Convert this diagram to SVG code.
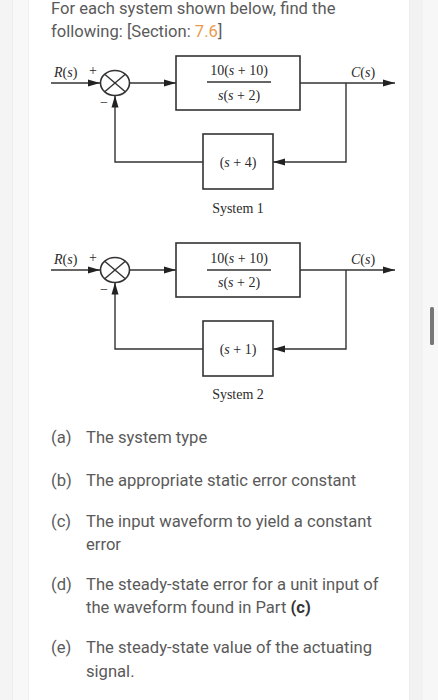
<svg xmlns="http://www.w3.org/2000/svg" width="438" height="700" viewBox="0 0 438 700">
<defs>
<style>
.bg{fill:#f4f4f4}
.ln{fill:none;stroke:#333;stroke-width:1.4}
.blk{fill:#fff;stroke:#333;stroke-width:1.6}
.dg{font-family:"Liberation Serif","Times New Roman",serif;font-size:14px;fill:#2a2a2a}
.it{font-style:italic}
.tx{font-family:Roboto,"Liberation Sans",Arial,sans-serif;font-size:16.6px;fill:#5a5a5a}
.or{fill:#e89a4e}
.bd{font-weight:bold;fill:#333}
</style>
<marker id="ah" markerUnits="userSpaceOnUse" markerWidth="13" markerHeight="8" refX="12" refY="4" orient="auto">
<path d="M0,0.5 L12,4 L0,7.5 z" fill="#222"/>
</marker>
</defs>
<rect x="0" y="0" width="438" height="700" class="bg"/>
<rect x="13" y="0" width="16" height="700" fill="#f8f8f8"/>
<line x1="12.5" y1="0" x2="12.5" y2="700" stroke="#ececec"/>
<rect x="29" y="0" width="381" height="700" fill="#fff"/>
<line x1="28.5" y1="0" x2="28.5" y2="700" stroke="#eeeeee"/>
<line x1="409.5" y1="0" x2="409.5" y2="700" stroke="#ececec"/>
<rect x="410" y="0" width="13" height="700" fill="#f2f2f2"/>
<rect x="423" y="0" width="15" height="700" fill="#f7f7f7"/>
<rect x="430" y="307" width="4" height="38" rx="1.5" fill="#777"/>

<g id="header">
<text class="tx" x="51" y="14">For each system shown below, find the</text>
<text class="tx" x="51" y="37">following: [Section: <tspan class="or">7.6</tspan>]</text>
</g>

<g id="connectors">
<!-- System 1 -->
<line class="ln" x1="51" y1="83" x2="100" y2="83" marker-end="url(#ah)"/>
<line class="ln" x1="130" y1="83" x2="176" y2="83" marker-end="url(#ah)"/>
<line class="ln" x1="300" y1="83" x2="395" y2="83" marker-end="url(#ah)"/>
<polyline class="ln" points="346,83 346,162 273,162" marker-end="url(#ah)"/>
<polyline class="ln" points="203,162 115,162 115,95.5" marker-end="url(#ah)"/>
<!-- System 2 -->
<line class="ln" x1="51" y1="270" x2="100" y2="270" marker-end="url(#ah)"/>
<line class="ln" x1="130" y1="270" x2="176" y2="270" marker-end="url(#ah)"/>
<line class="ln" x1="300" y1="270" x2="395" y2="270" marker-end="url(#ah)"/>
<polyline class="ln" points="346,270 346,349 273,349" marker-end="url(#ah)"/>
<polyline class="ln" points="203,349 115,349 115,282.5" marker-end="url(#ah)"/>
</g>

<g id="sys1-labels">
<text class="dg" x="54" y="77"><tspan class="it">R</tspan>(<tspan class="it">s</tspan>)</text>
<text class="dg" x="89" y="75">+</text>
<text class="dg" x="100" y="107">−</text>
<text class="dg" x="363" y="77" text-anchor="middle"><tspan class="it">C</tspan>(<tspan class="it">s</tspan>)</text>
<text class="dg" x="238" y="213" text-anchor="middle">System 1</text>
</g>
<g id="sys1-sum">
<ellipse cx="115" cy="83" rx="14.5" ry="12.5" class="blk"/>
<line class="ln" x1="104.7" y1="74.2" x2="125.3" y2="91.8"/>
<line class="ln" x1="104.7" y1="91.8" x2="125.3" y2="74.2"/>
</g>
<g id="sys1-G">
<rect x="176" y="56" width="124" height="54" class="blk"/>
<text class="dg" x="239" y="75" text-anchor="middle">10(<tspan class="it">s</tspan> + 10)</text>
<line class="ln" x1="207" y1="82" x2="271" y2="82"/>
<text class="dg" x="239" y="100" text-anchor="middle"><tspan class="it">s</tspan>(<tspan class="it">s</tspan> + 2)</text>
</g>
<g id="sys1-H">
<rect x="203" y="134" width="70" height="55" class="blk"/>
<text class="dg" x="238" y="167" text-anchor="middle">(<tspan class="it">s</tspan> + 4)</text>
</g>

<g id="sys2-labels">
<text class="dg" x="54" y="264"><tspan class="it">R</tspan>(<tspan class="it">s</tspan>)</text>
<text class="dg" x="89" y="262">+</text>
<text class="dg" x="100" y="294">−</text>
<text class="dg" x="363" y="264" text-anchor="middle"><tspan class="it">C</tspan>(<tspan class="it">s</tspan>)</text>
<text class="dg" x="238" y="399" text-anchor="middle">System 2</text>
</g>
<g id="sys2-sum">
<ellipse cx="115" cy="270" rx="14.5" ry="12.5" class="blk"/>
<line class="ln" x1="104.7" y1="261.2" x2="125.3" y2="278.8"/>
<line class="ln" x1="104.7" y1="278.8" x2="125.3" y2="261.2"/>
</g>
<g id="sys2-G">
<rect x="176" y="243" width="124" height="54" class="blk"/>
<text class="dg" x="239" y="263" text-anchor="middle">10(<tspan class="it">s</tspan> + 10)</text>
<line class="ln" x1="207" y1="270" x2="271" y2="270"/>
<text class="dg" x="239" y="287" text-anchor="middle"><tspan class="it">s</tspan>(<tspan class="it">s</tspan> + 2)</text>
</g>
<g id="sys2-H">
<rect x="203" y="321" width="70" height="55" class="blk"/>
<text class="dg" x="238" y="354" text-anchor="middle">(<tspan class="it">s</tspan> + 1)</text>
</g>

<g id="questions">
<text class="tx" x="51" y="443">(a)</text><text class="tx" x="86" y="443">The system type</text>
<text class="tx" x="51" y="486">(b)</text><text class="tx" x="86" y="486">The appropriate static error constant</text>
<text class="tx" x="51" y="527">(c)</text><text class="tx" x="86" y="527">The input waveform to yield a constant</text>
<text class="tx" x="86" y="550">error</text>
<text class="tx" x="51" y="590">(d)</text><text class="tx" x="86" y="590">The steady-state error for a unit input of</text>
<text class="tx" x="86" y="613">the waveform found in Part <tspan class="bd">(c)</tspan></text>
<text class="tx" x="51" y="653">(e)</text><text class="tx" x="86" y="653">The steady-state value of the actuating</text>
<text class="tx" x="86" y="677">signal.</text>
</g>
</svg>
